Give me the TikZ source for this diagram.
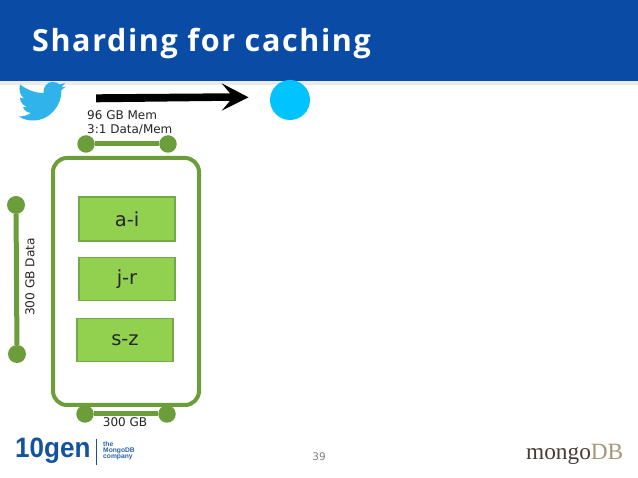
\documentclass[tikz,border=0pt]{standalone}
\usepackage{fontspec}
\setmainfont{DejaVu Sans}
\newfontfamily\seriffam{Liberation Serif}
\newfontfamily\logofam{Liberation Sans}
\newfontfamily\titlefam{Open Sans}
\definecolor{hdr}{HTML}{094BA5}
\definecolor{grn}{HTML}{6B9E3B}
\definecolor{boxfill}{HTML}{92D050}
\definecolor{boxline}{HTML}{74A848}
\definecolor{sky}{HTML}{00C3FF}
\definecolor{bird}{HTML}{2FB3EA}
\definecolor{gentxt}{HTML}{13529E}
\definecolor{cotxt}{HTML}{2A62A6}
\definecolor{mbrown}{HTML}{4A3A36}
\definecolor{mtan}{HTML}{A8967A}
\tikzset{
  dot/.style={circle,fill=grn,minimum size=17.5pt,inner sep=0pt,outer sep=0pt},
  bar/.style={draw=grn,line width=5pt},
  note/.style={inner sep=0pt,font=\fontsize{12}{14}\selectfont,text=black!85},
  shard/.style={draw=boxline,line width=1.2pt,fill=boxfill,inner sep=0pt,font=\fontsize{19.5}{22}\selectfont,text=black!85}
}
\begin{document}
\begin{tikzpicture}[x=1pt,y=-1pt]
\useasboundingbox (0,0) rectangle (638,478);
\fill[white] (0,0) rectangle (638,478);
% header
\fill[black!8] (0,81) rectangle (638,85);
\fill[hdr] (0,0) rectangle (638,81.5);
\node[anchor=west,inner sep=0pt,text=white,font=\titlefam\bfseries\fontsize{30.5}{34}\selectfont] (title) at (32,43.5) {\addfontfeature{LetterSpace=5.3}Sharding for caching};
% twitter bird
\fill[bird] (20,84.5) .. controls (26,89) and (34,93) .. (43.5,93)
  .. controls (43,88) and (46,82) .. (53,82)
  .. controls (56,82) and (58,83) .. (59.5,84.5)
  -- (65,83) -- (61.5,87.5) -- (66,86.5) -- (61.5,90)
  .. controls (62,105) and (50,120.5) .. (33,120.5)
  .. controls (27,120.5) and (23,119) .. (19,116.5)
  .. controls (23,116.5) and (27,115.5) .. (31,113)
  .. controls (27,112.5) and (24,110.5) .. (23,107)
  .. controls (24.5,107.3) and (26,107.2) .. (27,106.8)
  .. controls (23,105.5) and (20,102) .. (20,97.5)
  .. controls (21,98) and (23,98.5) .. (24,98.5)
  .. controls (20,95) and (18.5,89.5) .. (20,84.5) -- cycle;
% arrow
\fill[black] (96,94.3) -- (230,93.3) -- (221.7,83.3) -- (248.5,97.3) -- (221.7,110.7) -- (230,100.8) -- (96,102.3) -- cycle;
\node[circle,fill=sky,minimum size=40pt,inner sep=0pt] (cloud) at (290,100) {};
% top width
\node[note,anchor=west] (mem) at (87,115.5) {96 GB Mem};
\node[note,anchor=west] (ratio) at (87,130) {3:1 Data/Mem};
\node[dot] (tl) at (86,144) {};
\node[dot] (tr) at (168,144) {};
\draw[bar] (tl) -- (tr);
% container
\draw[draw=grn,line width=4pt,rounded corners=14pt] (53,158) rectangle (199,405);
% shards
\node[shard,minimum width=96pt,minimum height=44pt] (ai) at (127,219) {a-i};
\node[shard,minimum width=96pt,minimum height=43pt] (jr) at (127,279) {j-r};
\node[shard,minimum width=96pt,minimum height=43pt] (sz) at (125,340) {s-z};
% left height
\node[dot,minimum size=18pt] (lt) at (16,205) {};
\node[dot,minimum size=18pt] (lb) at (17,354) {};
\draw[bar] (lt) -- (lb);
\node[rotate=90,inner sep=0pt,font=\fontsize{12.2}{14}\selectfont,text=black!85] (data) at (30,277) {300 GB Data};
% bottom width
\node[dot] (bl) at (85,414) {};
\node[dot] (br) at (167,414) {};
\draw[bar] (bl) -- (br);
\node[note] (gb) at (125,422.5) {300 GB};
% footer
\node[text=black!50,inner sep=0pt,font=\fontsize{10.5}{12}\selectfont] (page) at (319,457) {39};
\node[anchor=west,inner sep=0pt,text=gentxt,font=\logofam\bfseries\fontsize{28}{30}\selectfont] (gen) at (15,451) {\scalebox{.93}[1]{10gen}};
\draw[gentxt,line width=.7pt] (96,439) -- (96,465);
\node[anchor=west,align=left,inner sep=0pt,text=cotxt,font=\logofam\bfseries\fontsize{6.7}{6.2}\selectfont] (co) at (103,451) {the\\MongoDB\\company};
\node[anchor=west,inner sep=0pt,font=\seriffam\fontsize{23.3}{28}\selectfont] (mongo) at (526,454) {\textcolor{mbrown}{mongo}\textcolor{mtan}{DB}};
\end{tikzpicture}
\end{document}
